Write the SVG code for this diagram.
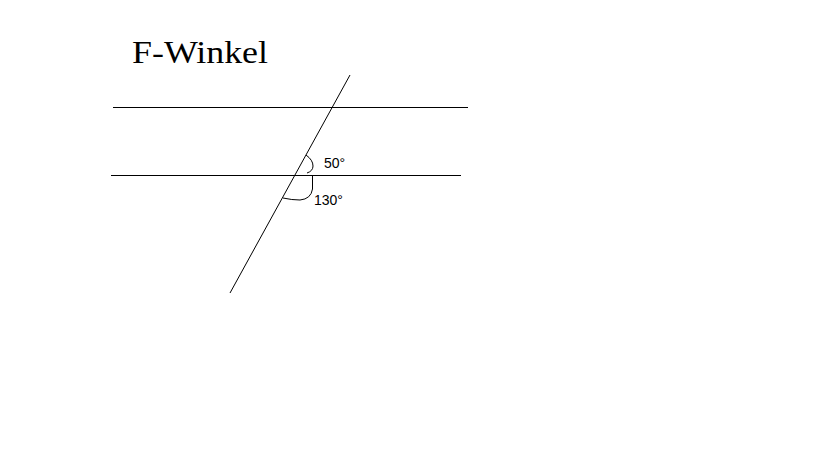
<svg xmlns="http://www.w3.org/2000/svg" width="819" height="460" viewBox="0 0 819 460">
<style>
.ln{stroke:#000;stroke-width:1;fill:none}
.h{shape-rendering:crispEdges}
.arc{stroke:#000;stroke-width:1;fill:none}
.lbl{font-family:"Liberation Sans",Arial,sans-serif;font-size:14px;fill:#000}
.title{font-family:"Liberation Serif","Times New Roman",serif;font-size:32px;fill:#000}
</style>
<rect width="819" height="460" fill="#fff"/>
<text id="title" class="title" x="132" y="63" textLength="136" lengthAdjust="spacingAndGlyphs">F-Winkel</text>
<g id="connectors">
<line class="ln h" x1="113" y1="107.5" x2="468" y2="107.5"/>
<line class="ln h" x1="111" y1="175.5" x2="461" y2="175.5"/>
<line class="ln" x1="350" y1="75" x2="230" y2="293"/>
</g>
<g id="angle50">
<path class="arc" d="M306,155 Q313,160 313,166 Q313,171 307,173"/>
<text class="lbl" x="324" y="168">50°</text>
</g>
<g id="angle130">
<path class="arc" d="M312.5,176 L312.5,189 Q311,199 300,200 Q292,200 283,198"/>
<text class="lbl" x="314" y="205">130°</text>
</g>
</svg>
